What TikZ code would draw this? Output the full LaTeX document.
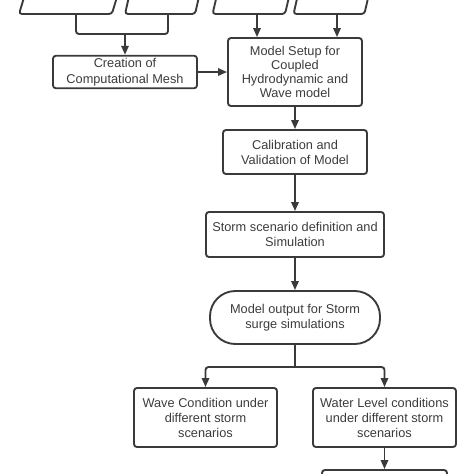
\documentclass[tikz,border=0pt]{standalone}
\usepackage{fontspec}
\setmainfont{Liberation Sans}
\usepackage{tikz}
\usetikzlibrary{shapes.geometric, arrows.meta, positioning, calc}
\definecolor{lineg}{RGB}{58, 58, 58}
\definecolor{textg}{RGB}{60, 60, 60}
\tikzset{
  stepbox/.style={draw=lineg, line width=1.6pt, rounded corners=2.5pt, align=center, text=textg,
    font=\fontsize{10.9}{12.8}\selectfont, inner sep=2pt},
  inbox/.style={draw=lineg, line width=1.6pt, rounded corners=2.5pt, trapezium, trapezium left angle=74,
    trapezium right angle=106, trapezium stretches=true, minimum height=2.1cm, inner sep=3pt},
  termbox/.style={stepbox, rounded corners=0.76cm},
  flow/.style={draw=lineg, line width=1.6pt, -{Triangle[length=0.27cm, width=0.22cm]}},
  joint/.style={draw=lineg, line width=1.6pt, rounded corners=2.5pt}
}

\begin{document}
\begin{tikzpicture}
  \useasboundingbox (0,0) rectangle (14.22,-14.22);
  \clip (0,0) rectangle (14.22,-14.22);

  % Input data (cut off at the top)
  \node[inbox, minimum width=3.42cm] (in1) at (2.28, 0.63) {\phantom{x}};
  \node[inbox, minimum width=2.58cm] (in2) at (5.04, 0.63) {\phantom{x}};
  \node[inbox, minimum width=2.67cm] (in3) at (7.71, 0.63) {\phantom{x}};
  \node[inbox, minimum width=2.61cm] (in4) at (10.11, 0.63) {\phantom{x}};

  % Mesh and model setup
  \node[stepbox, minimum width=4.32cm, minimum height=0.96cm, font=\fontsize{10.9}{13.6}\selectfont] (mesh) at (3.75, -2.16) {
    Creation of\\Computational Mesh
  };
  \node[stepbox, minimum width=4.02cm, minimum height=2.04cm, font=\fontsize{10.9}{12}\selectfont] (setup) at (8.85, -2.16) {
    Model Setup for\\Coupled\\Hydrodynamic and\\Wave model
  };

  % Calibration, scenarios, output
  \node[stepbox, minimum width=4.32cm, minimum height=1.32cm] (calib) at (8.85, -4.56) {
    Calibration and\\Validation of Model
  };
  \node[stepbox, minimum width=5.34cm, minimum height=1.35cm] (storm) at (8.85, -7.035) {
    Storm scenario definition and\\Simulation
  };
  \node[termbox, minimum width=5.1cm, minimum height=1.59cm] (output) at (8.85, -9.525) {
    Model output for Storm\\surge simulations
  };

  % Results
  \node[stepbox, minimum width=4.29cm, minimum height=1.77cm] (wave) at (6.165, -12.525) {
    Wave Condition under\\different storm\\scenarios
  };
  \node[stepbox, minimum width=4.29cm, minimum height=1.77cm] (level) at (11.535, -12.525) {
    Water Level conditions\\under different storm\\scenarios
  };
  \node[stepbox, minimum width=3.75cm, minimum height=1.2cm] (next) at (11.535, -14.7) {};

  % Connectors
  \coordinate (jin) at (3.75, -1.02);
  \coordinate (jout) at (8.85, -11.01);
  \draw[joint] (in1.south) |- (jin) -| (in2.south);
  \draw[flow] (jin) -- (mesh);
  \draw[flow] (in3.south) -- (in3.south |- setup.north);
  \draw[flow] (in4.south) -- (in4.south |- setup.north);
  \draw[flow] (mesh) -- (setup);
  \draw[flow] (setup) -- (calib);
  \draw[flow] (calib) -- (storm);
  \draw[flow] (storm) -- (output);
  \draw[joint] (output.south) -- (jout);
  \draw[flow, rounded corners=2.5pt] (jout) -| (wave.north);
  \draw[flow, rounded corners=2.5pt] (jout) -| (level.north);
  \draw[flow] (level) -- (next);
\end{tikzpicture}
\end{document}
